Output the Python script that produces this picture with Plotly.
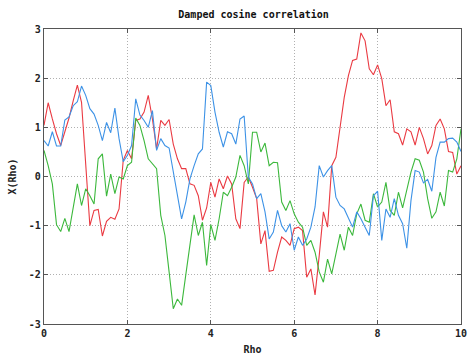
import plotly.graph_objects as go

rho = [round(i * 0.1, 1) for i in range(101)]

red = [1.04, 1.50, 1.17, 0.87, 0.63, 0.90, 1.19, 1.54, 1.86, 1.51, 0.22, -1.0, -0.69, -0.67, -1.21, -0.91, -0.83, -0.87,
       -0.66, 0.33, 0.53, 0.36, 1.14, 1.17, 1.31, 1.65, 1.17, 0.56, 1.14, 1.04, 1.16, 0.66, 0.36, 0.16, 0.16,
       -0.15, -0.18, -0.39, -0.89, -0.64, -0.12, -0.42, -0.05, -0.25, 0.01, -0.15, -0.86, -1.06, -0.12, -0.01, -0.22,
       -0.45, -1.37, -1.10, -1.93, -1.91, -1.54, -1.23, -1.30, -1.40, -1.06, -1.03, -1.10, -2.05, -1.88, -2.41, -1.61, -0.72,
       -1.03, 0.22, 0.39, 1.04, 1.61, 2.05, 2.36, 2.39, 2.92, 2.76, 2.19, 2.07, 2.27, 1.99, 1.44, 1.56, 0.91,
       0.87, 0.64, 0.97, 0.91, 0.64, 1.0, 0.77, 0.46, 0.63, 1.04, 1.17, 0.97, 0.51, 0.49, 0.05, 0.22]

blue = [0.73, 0.62, 0.91, 0.62, 0.62, 1.15, 1.21, 1.44, 1.52, 1.84, 1.65, 1.38, 1.27, 1.04, 0.73, 1.10, 0.89, 1.39,
        0.77, 0.30, 0.43, 0.63, 1.58, 1.25, 1.14, 1.0, 1.34, 0.53, 0.77, 0.63, 0.58, 0.09, -0.39, -0.86, -0.52,
        -0.05, 0.22, 0.46, 0.56, 1.92, 1.85, 1.31, 0.90, 0.60, 0.91, 0.87, 0.66, 1.17, 1.23, -0.01, -0.15,
        -0.45, -0.35, -0.72, -1.27, -1.13, -0.69, -1.0, -1.13, -0.96, -1.5, -1.23, -1.40, -1.27, -1.03, -0.62, 0.22, -0.01,
        0.12, 0.22, -0.42, -0.59, -0.66, -0.85, -1.03, -0.72, -0.86, -1.03, -1.2, -0.39, -0.30, -1.30, -0.66, -0.83, -0.45,
        -0.79, -0.96, -1.46, -0.49, 0.12, 0.09, -0.13, -0.06, -0.30, 0.39, 0.70, 0.70, 0.77, 0.78, 0.70, 0.51]

green = [0.53, 0.22, -0.15, -0.98, -1.12, -0.85, -1.12, -0.62, -0.15, -0.59, -0.25, -0.39, -0.56, 0.36, 0.46, -0.40, 0.05, -0.35,
         -0.01, -0.05, 0.22, 0.29, 1.19, 1.04, 0.73, 0.36, 0.26, 0.16, -0.79, -1.2, -1.94, -2.69, -2.49, -2.62, -2.0,
         -1.33, -0.78, -1.2, -0.93, -1.81, -0.98, -1.3, -0.86, -0.32, -0.39, -0.22, -0.01, 0.43, 0.22, -0.15, 0.90,
         0.90, 0.50, 0.68, 0.22, 0.29, 0.28, -0.52, -0.69, -0.49, -0.76, -0.93, -1.03, -1.40, -1.30, -1.54, -1.94, -2.15,
         -1.68, -1.98, -1.54, -1.17, -1.50, -1.03, -1.2, -0.76, -0.56, -0.89, -0.93, -0.35, -0.62, -0.52, -0.12, -0.69, -0.79,
         -0.32, -0.64, -0.28, 0.09, 0.36, 0.33, 0.09, -0.45, -0.85, -0.72, -0.32, -0.60, 0.12, 0.09, 0.36, 0.97]

x_ticks = [0, 2, 4, 6, 8, 10]
y_ticks = [-3, -2, -1, 0, 1, 2, 3]

FONT = "DejaVu Sans Mono"

fig = go.Figure()
for vals, col in [(red, "#ea3a42"), (green, "#3cb83c"), (blue, "#3d92e6")]:
    fig.add_trace(go.Scatter(x=rho, y=vals, mode="lines",
                             line=dict(color=col, width=1.1), showlegend=False))

axis_common = dict(
    showline=True, linecolor="#555555", linewidth=1.2, mirror="ticks",
    ticks="inside", ticklen=4, tickcolor="#555555",
    showgrid=True, gridcolor="#b0b0b0", griddash="1px,2px", gridwidth=1,
    zeroline=False, automargin=False,
    tickfont=dict(family=FONT, size=10, color="#222222", weight="bold"),
)

fig.update_layout(
    width=474, height=355,
    margin=dict(l=44, r=13, t=29, b=31),
    paper_bgcolor="white", plot_bgcolor="white",
    title=dict(text="<b>Damped cosine correlation</b>", x=0.535, xanchor="center",
               y=0.96, yanchor="middle",
               font=dict(family=FONT, size=10, color="#111111")),
    xaxis=dict(range=[0, 10], tickvals=x_ticks, ticktext=[str(v) for v in x_ticks],
               title=dict(text="<b>Rho</b>", standoff=8,
                          font=dict(family=FONT, size=10, color="#222222")),
               **axis_common),
    yaxis=dict(range=[-3, 3], tickvals=y_ticks, ticktext=[str(v) for v in y_ticks],
               title=dict(text="<b>X(Rho)</b>", standoff=10,
                          font=dict(family=FONT, size=10, color="#222222")),
               **axis_common),
)

fig.write_html("out.html", config={"displayModeBar": False},
               post_script="document.body.style.margin='0';")
